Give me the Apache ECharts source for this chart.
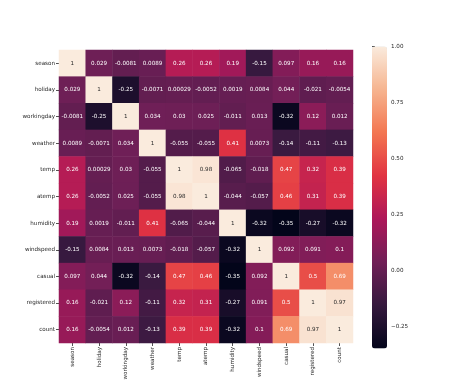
<!DOCTYPE html>
<html>
<head>
<meta charset="utf-8">
<script src="https://cdn.jsdelivr.net/npm/echarts@6/dist/echarts.min.js"></script>
<style>html,body{margin:0;padding:0;background:#fff}#c{width:474px;height:390px}</style>
</head>
<body>
<div id="c"></div>
<script>
var categories = ['season','holiday','workingday','weather','temp','atemp','humidity','windspeed','casual','registered','count'];
var rowSeason     = [1, 0.029, -0.0081, 0.0089, 0.26, 0.26, 0.19, -0.15, 0.097, 0.16, 0.16];
var rowHoliday    = [0.029, 1, -0.25, -0.0071, 0.00029, -0.0052, 0.0019, 0.0084, 0.044, -0.021, -0.0054];
var rowWorkingday = [-0.0081, -0.25, 1, 0.034, 0.03, 0.025, -0.011, 0.013, -0.32, 0.12, 0.012];
var rowWeather    = [0.0089, -0.0071, 0.034, 1, -0.055, -0.055, 0.41, 0.0073, -0.14, -0.11, -0.13];
var rowTemp       = [0.26, 0.00029, 0.03, -0.055, 1, 0.98, -0.065, -0.018, 0.47, 0.32, 0.39];
var rowAtemp      = [0.26, -0.0052, 0.025, -0.055, 0.98, 1, -0.044, -0.057, 0.46, 0.31, 0.39];
var rowHumidity   = [0.19, 0.0019, -0.011, 0.41, -0.065, -0.044, 1, -0.32, -0.35, -0.27, -0.32];
var rowWindspeed  = [-0.15, 0.0084, 0.013, 0.0073, -0.018, -0.057, -0.32, 1, 0.092, 0.091, 0.1];
var rowCasual     = [0.097, 0.044, -0.32, -0.14, 0.47, 0.46, -0.35, 0.092, 1, 0.5, 0.69];
var rowRegistered = [0.16, -0.021, 0.12, -0.11, 0.32, 0.31, -0.27, 0.091, 0.5, 1, 0.97];
var rowCount      = [0.16, -0.0054, 0.012, -0.13, 0.39, 0.39, -0.32, 0.1, 0.69, 0.97, 1];
var colorbarTicks = [-0.25, 0, 0.25, 0.5, 0.75, 1];

var rows = [rowSeason,rowHoliday,rowWorkingday,rowWeather,rowTemp,rowAtemp,rowHumidity,rowWindspeed,rowCasual,rowRegistered,rowCount];
var vmin = -0.35, vmax = 1;
var rocket = ['#03051A','#35193E','#701F57','#AD1759','#E13342','#F37651','#F6B48F','#FAEBDD'];

var data = [];
rows.forEach(function(r, yi){
  r.forEach(function(v, xi){
    data.push({value:[xi, yi, v], label:{color: v > 0.9 ? '#262626' : '#ffffff'}});
  });
});

var FONT = 'DejaVu Sans';
var chart = echarts.init(document.getElementById('c'), null, {renderer:'canvas'});
chart.setOption({
  animation:false,
  backgroundColor:'#fff',
  textStyle:{fontFamily:FONT},
  grid:[
    {left:59, right:121, top:50, bottom:47},
    {left:372, width:15, top:46.5, height:302}
  ],
  xAxis:[
    {type:'category', data:categories, gridIndex:0, position:'bottom',
     axisLine:{show:false}, splitLine:{show:false},
     axisTick:{show:true, alignWithLabel:true, length:3, lineStyle:{color:'#262626', width:0.8}},
     axisLabel:{rotate:90, fontSize:5.6, color:'#262626', margin:4, fontFamily:FONT}},
    {type:'value', gridIndex:1, show:false, min:0, max:1}
  ],
  yAxis:[
    {type:'category', data:categories, gridIndex:0, inverse:true,
     axisLine:{show:false}, splitLine:{show:false},
     axisTick:{show:true, alignWithLabel:true, length:3, lineStyle:{color:'#262626', width:0.8}},
     axisLabel:{fontSize:5.6, color:'#262626', margin:4, fontFamily:FONT}},
    {type:'value', gridIndex:1, position:'right', min:vmin, max:vmax,
     axisLine:{show:false}, splitLine:{show:false},
     axisTick:{show:true, length:3, customValues:colorbarTicks, lineStyle:{color:'#262626', width:0.8}},
     axisLabel:{show:true, customValues:colorbarTicks, fontSize:5.6, color:'#262626', margin:4, fontFamily:FONT,
       formatter:function(v){ var s = Math.abs(v).toFixed(2); return v < 0 ? '\u2212' + s : s; }}}
  ],
  visualMap:{
    type:'continuous', min:vmin, max:vmax, seriesIndex:0,
    orient:'vertical', left:372, top:46.5, itemWidth:15, itemHeight:302,
    calculable:false, hoverLink:false, padding:0, text:null, show:true,
    inRange:{color:rocket}
  },
  series:[
    {type:'heatmap', xAxisIndex:0, yAxisIndex:0, data:data,
     label:{show:true, fontSize:5.6, fontFamily:FONT,
       formatter:function(p){ return String(p.value[2]); }},
     itemStyle:{borderWidth:0},
     emphasis:{disabled:true}},
    {type:'line', xAxisIndex:1, yAxisIndex:1, data:[], silent:true}
  ]
});
</script>
</body>
</html>
